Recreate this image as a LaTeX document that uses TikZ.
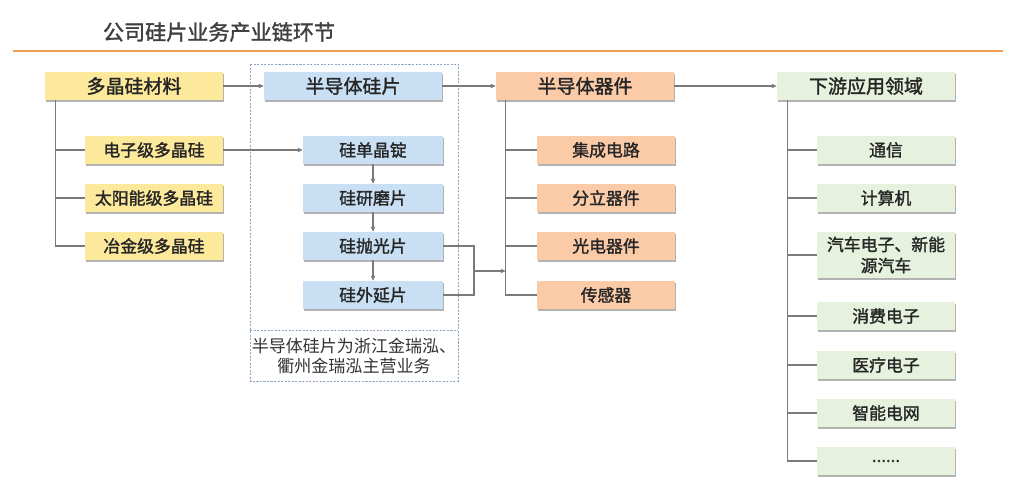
\documentclass[tikz,border=0pt]{standalone}
\usepackage{fontspec}
\setmainfont{Noto Sans CJK SC}[AutoFakeBold=1.6]
\usepackage{xcolor}
\usetikzlibrary{arrows.meta,positioning,calc,shadows}

\definecolor{polyY}{HTML}{FDE99B}
\definecolor{waferB}{HTML}{C9DFF3}
\definecolor{devO}{HTML}{FBCBA8}
\definecolor{appG}{HTML}{E6F2DE}
\definecolor{linkG}{HTML}{7A7A7A}
\definecolor{titleO}{HTML}{EE9E55}
\definecolor{noteB}{HTML}{8FA6C2}

\begin{document}
\begin{tikzpicture}[x=0.025cm,y=-0.025cm,
    box/.style={inner sep=0pt,minimum height=0.7cm,align=center,text=black!85,
        drop shadow={shadow xshift=0.5pt,shadow yshift=-1.4pt,fill=black!60,opacity=0.5}},
    headbox/.style={box,minimum width=4.45cm,font=\fontsize{13.5}{15}\selectfont\bfseries},
    subbox/.style={box,minimum width=3.45cm,font=\fontsize{12}{15}\selectfont\bfseries},
    link/.style={draw=linkG,line width=0.8pt},
    arr/.style={link,-{Triangle[length=3.5pt,width=3pt]}}]
\useasboundingbox (0,0) rectangle (1017,480);

% title
\node[anchor=west,font=\fontsize{15}{17}\selectfont\bfseries,text=black!75] (title) at (98,32) {公司硅片业务产业链环节};
\draw[titleO,line width=0.8pt] (13,51) -- (1003,51);

% dashed frame round the wafer column
\draw[noteB,line width=0.7pt,dash pattern=on 1.5pt off 1pt] (250,64) rectangle (458,381);
\draw[noteB,line width=0.7pt,dash pattern=on 1.5pt off 1pt] (250,330) -- (458,330);
\node[align=center,font=\fontsize{12.1}{14.5}\selectfont,text=black!80] (note) at (354,356)
    {半导体硅片为浙江金瑞泓、\\衢州金瑞泓主营业务};

% heads
\node[headbox,fill=polyY] (mat) at (134,86) {多晶硅材料};
\node[headbox,fill=waferB] (wafer) at (353,86) {半导体硅片};
\node[headbox,fill=devO] (dev) at (585,86) {半导体器件};
\node[headbox,fill=appG] (app) at (866,86) {下游应用领域};

% polysilicon grades
\node[subbox,fill=polyY] (elec) at (154,150) {电子级多晶硅};
\node[subbox,fill=polyY] (solar) at (154,198) {太阳能级多晶硅};
\node[subbox,fill=polyY] (metal) at (154,246) {冶金级多晶硅};

% wafer steps
\node[subbox,fill=waferB,minimum width=3.5cm] (ingot) at (373,150) {硅单晶锭};
\node[subbox,fill=waferB,minimum width=3.5cm] (lapped) at (373,198) {硅研磨片};
\node[subbox,fill=waferB,minimum width=3.5cm] (polished) at (373,246) {硅抛光片};
\node[subbox,fill=waferB,minimum width=3.5cm] (epi) at (373,295) {硅外延片};

% devices
\node[subbox,fill=devO] (ic) at (606,150) {集成电路};
\node[subbox,fill=devO] (discrete) at (606,198) {分立器件};
\node[subbox,fill=devO] (opto) at (606,246) {光电器件};
\node[subbox,fill=devO] (sensor) at (606,295) {传感器};

% applications
\node[subbox,fill=appG] (comm) at (886,150) {通信};
\node[subbox,fill=appG] (comp) at (886,198) {计算机};
\node[subbox,fill=appG,minimum height=1.15cm] (auto) at (886,255) {汽车电子、新能\\源汽车};
\node[subbox,fill=appG] (cons) at (886,316) {消费电子};
\node[subbox,fill=appG] (med) at (886,365) {医疗电子};
\node[subbox,fill=appG] (grid) at (886,413) {智能电网};
\node[subbox,fill=appG] (more) at (886,461) {......};

% main chain
\draw[arr] (mat) -- (wafer);
\draw[arr] (wafer) -- (dev);
\draw[arr] (dev) -- (app);

% trees
\coordinate (matTrunk) at ($(mat.south west)+(11,0)$);
\foreach \n in {elec,solar,metal}
    \draw[link] (matTrunk) |- (\n.west);
\coordinate (devTrunk) at ($(dev.south west)+(10,0)$);
\foreach \n in {ic,discrete,opto,sensor}
    \draw[link] (devTrunk) |- (\n.west);
\coordinate (appTrunk) at ($(app.south west)+(11,0)$);
\foreach \n in {comm,comp,auto,cons,med,grid,more}
    \draw[link] (appTrunk) |- (\n.west);

% wafer flow
\draw[arr] (elec) -- (ingot);
\draw[arr] (ingot) -- (lapped);
\draw[arr] (lapped) -- (polished);
\draw[arr] (polished) -- (epi);
\coordinate (join) at (474,271);
\draw[link] (polished.east) -| (join);
\draw[link] (epi.east) -| (join);
\draw[arr] (join) -- (join -| devTrunk);
\end{tikzpicture}
\end{document}
